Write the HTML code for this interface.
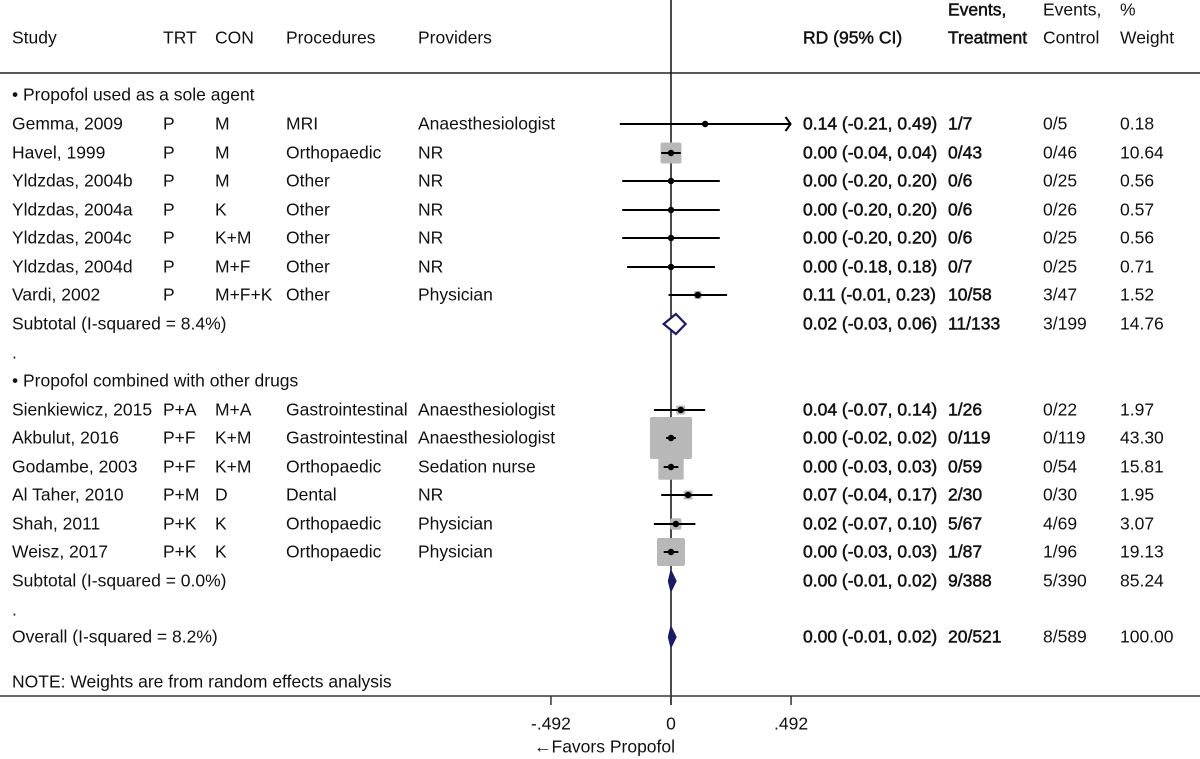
<!DOCTYPE html>
<html><head><meta charset="utf-8"><style>
html,body{margin:0;padding:0;background:#fff;}
svg{display:block;font-family:"Liberation Sans",Arial,sans-serif;}
</style></head><body>
<svg id="chart" width="1200" height="759" viewBox="0 0 1200 759"></svg>
<script>
// ---- data ----
const studies = ["Gemma, 2009","Havel, 1999","Yldzdas, 2004b","Yldzdas, 2004a","Yldzdas, 2004c","Yldzdas, 2004d","Vardi, 2002","Sienkiewicz, 2015","Akbulut, 2016","Godambe, 2003","Al Taher, 2010","Shah, 2011","Weisz, 2017"];
const trt = ["P","P","P","P","P","P","P","P+A","P+F","P+F","P+M","P+K","P+K"];
const con = ["M","M","M","K","K+M","M+F","M+F+K","M+A","K+M","K+M","D","K","K"];
const procs = ["MRI","Orthopaedic","Other","Other","Other","Other","Other","Gastrointestinal","Gastrointestinal","Orthopaedic","Dental","Orthopaedic","Orthopaedic"];
const providers = ["Anaesthesiologist","NR","NR","NR","NR","NR","Physician","Anaesthesiologist","Anaesthesiologist","Sedation nurse","NR","Physician","Physician"];
const rd = [0.14,0.00,0.00,0.00,0.00,0.00,0.11,0.04,0.00,0.00,0.07,0.02,0.00];
const lo = [-0.21,-0.04,-0.20,-0.20,-0.20,-0.18,-0.01,-0.07,-0.02,-0.03,-0.04,-0.07,-0.03];
const hi = [0.49,0.04,0.20,0.20,0.20,0.18,0.23,0.14,0.02,0.03,0.17,0.10,0.03];
const evT = ["1/7","0/43","0/6","0/6","0/6","0/7","10/58","1/26","0/119","0/59","2/30","5/67","1/87"];
const evC = ["0/5","0/46","0/25","0/26","0/25","0/25","3/47","0/22","0/119","0/54","0/30","4/69","1/96"];
const weights = [0.18,10.64,0.56,0.57,0.56,0.71,1.52,1.97,43.30,15.81,1.95,3.07,19.13];
const summaryLabels = ["Subtotal  (I-squared = 8.4%)","Subtotal  (I-squared = 0.0%)","Overall  (I-squared = 8.2%)"];
const summaryRd = [0.02,0.00,0.00];
const summaryLo = [-0.03,-0.01,-0.01];
const summaryHi = [0.06,0.02,0.02];
const summaryEvT = ["11/133","9/388","20/521"];
const summaryEvC = ["3/199","5/390","8/589"];
const summaryW = ["14.76","85.24","100.00"];
const tickVals = [-0.492,0,0.492];
const tickLabels = ["-.492","0",".492"];

// ---- layout ----
const svg = document.getElementById('chart');
const NS = 'http://www.w3.org/2000/svg';
const x0 = 671, pxPerUnit = 244, xmin=-0.492, xmax=0.492;
const X = v => x0 + v*pxPerUnit;
const studyY = [124,153,181,210,238,267,295,410,438,467,495,524,552];
const sumY = [324,581,637];
function el(tag, attrs, txt){const e=document.createElementNS(NS,tag);for(const k in attrs)e.setAttribute(k,attrs[k]);if(txt!==undefined)e.textContent=txt;svg.appendChild(e);return e;}
function text(x,y,s,name,opts={}){const t=el('text',Object.assign({x:x,y:y+1,'font-size':17.5,fill:'#111','dominant-baseline':'middle'},opts),s);


return t;}
const B={stroke:'#111','stroke-width':0.5};

// headers
text(12,38,"Study","header-study");
text(163,38,"TRT","header-trt");
text(215,38,"CON","header-con");
text(286,38,"Procedures","header-procedures");
text(418,38,"Providers","header-providers");
text(803,38,"RD (95% CI)","header-rd",B);
text(948,10,"Events,","header-events-treatment",B);
text(948,38,"Treatment","header-events-treatment-2",B);
text(1043,10,"Events,","header-events-control");
text(1043,38,"Control","header-events-control-2");
text(1120,10,"%","header-weight");
text(1120,38,"Weight","header-weight-2");
let l=el('line',{x1:0,x2:1200,y1:73,y2:73,stroke:'#222','stroke-width':1.5});



// zero line & axis
l=el('line',{x1:x0,x2:x0,y1:0,y2:705,stroke:'#111','stroke-width':1.5});


l=el('line',{x1:0,x2:1200,y1:696,y2:696,stroke:'#333','stroke-width':1.5});


tickVals.forEach((v,i)=>{
  const t=el('line',{x1:X(v),x2:X(v),y1:696,y2:705,stroke:'#333','stroke-width':1.5});
  
  
  text(X(v),724,tickLabels[i],'x-tick-label',{'text-anchor':'middle'});
});
text(534,747,"\u2190Favors Propofol","x-axis-title");

text(12,95,"\u2022 Propofol used as a sole agent","group-label-sole");
text(12,353,".","spacer-dot");
text(12,381,"\u2022 Propofol combined with other drugs","group-label-combined");
text(12,610,".","spacer-dot");
text(12,682,"NOTE: Weights are from random effects analysis","note");

// studies
studies.forEach((s,i)=>{
  const y=studyY[i];
  text(12,y,s,'study-name');
  text(163,y,trt[i],'trt-cell');
  text(215,y,con[i],'con-cell');
  text(286,y,procs[i],'procedure-cell');
  text(418,y,providers[i],'provider-cell');
  text(803,y,rd[i].toFixed(2)+" ("+lo[i].toFixed(2)+", "+hi[i].toFixed(2)+")",'rd-ci-text',B);
  text(948,y,evT[i],'events-treatment',B);
  text(1043,y,evC[i],'events-control');
  text(1120,y,weights[i].toFixed(2),'weight-cell');
  const side=Math.sqrt(weights[i])*6.4;
  const b=el('rect',{x:X(rd[i])-side/2,y:y-side/2,width:side,height:side,fill:'#b8b8b8',rx:2});
  
  
  const a=Math.max(lo[i],xmin), c=Math.min(hi[i],xmax);
  const ln=el('line',{x1:X(a),x2:X(c),y1:y,y2:y,stroke:'#000','stroke-width':2});
  
  
  if(hi[i]>=xmax-0.01){
    const ar=el('path',{d:`M${X(c)-5} ${y-7} L${X(c)} ${y} L${X(c)-5} ${y+7}`,fill:'none',stroke:'#000','stroke-width':2});
    
    
  }
  const d=el('circle',{cx:X(rd[i]),cy:y,r:3.2,fill:'#000'});
  
  
});

// summaries
summaryLabels.forEach((s,i)=>{
  const y=sumY[i];
  text(12,y,s,'summary-label',{'xml:space':'preserve'});
  text(803,y,summaryRd[i].toFixed(2)+" ("+summaryLo[i].toFixed(2)+", "+summaryHi[i].toFixed(2)+")",'summary-rd-text',B);
  text(948,y,summaryEvT[i],'summary-events-treatment',B);
  text(1043,y,summaryEvC[i],'summary-events-control');
  text(1120,y,summaryW[i],'summary-weight');
  const h=10;
  const d=el('path',{d:`M${X(summaryLo[i])} ${y} L${X(summaryRd[i])} ${y-h} L${X(summaryHi[i])} ${y} L${X(summaryRd[i])} ${y+h} Z`,fill:(i===0?'#fff':'#1a1a66'),stroke:'#1a1a66','stroke-width':(i===0?2.2:1.5)});
  
  
});
</script>
</body></html>
